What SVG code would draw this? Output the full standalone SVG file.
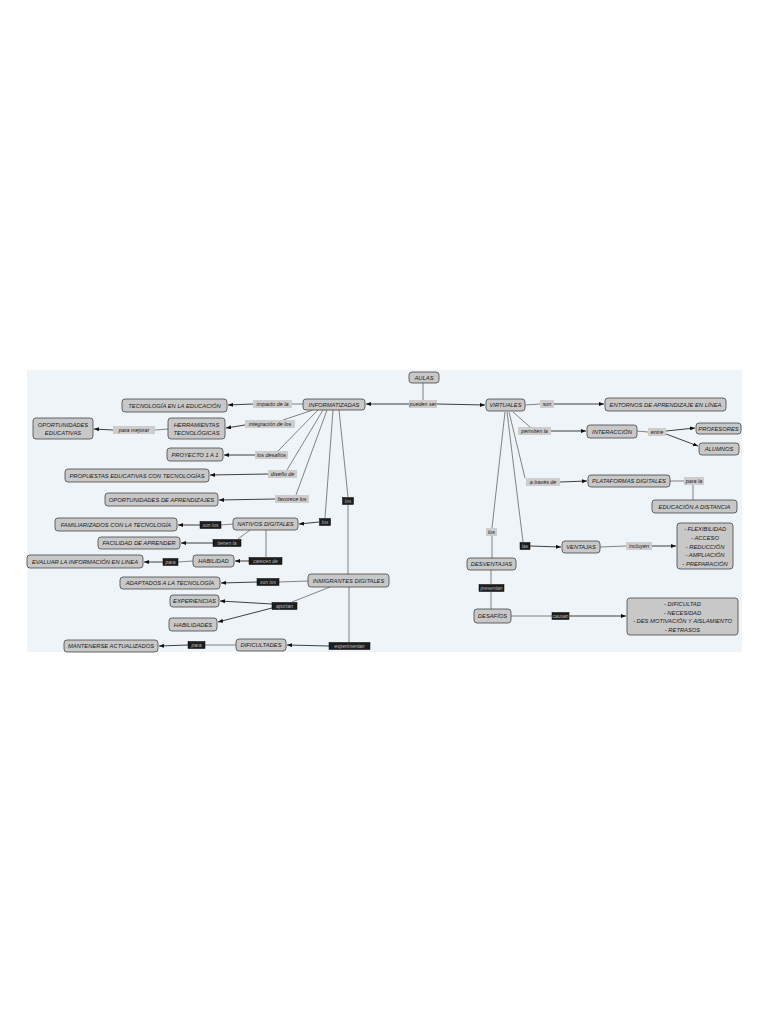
<svg xmlns="http://www.w3.org/2000/svg" width="768" height="1024" viewBox="0 0 768 1024">
<defs>
<marker id="ah" markerWidth="5" markerHeight="4" refX="5" refY="2" orient="auto" markerUnits="userSpaceOnUse"><path d="M0,0 L5,2 L0,4 Z" fill="#111"/></marker>
<style>
.n rect{fill:#c8c8c8;stroke:#444;stroke-width:0.8}
.n text{font-family:"Liberation Sans",Arial,sans-serif;font-style:italic;font-size:5.8px;fill:#1a1a1a;text-anchor:middle;dominant-baseline:central}
.g text{font-family:"Liberation Sans",Arial,sans-serif;font-style:italic;font-size:5.4px;fill:#1a1a1a;text-anchor:middle;dominant-baseline:central}
.g rect{fill:#cdcdcd}
.b rect{fill:#1e1e1e;stroke:#000;stroke-width:0.5}
.b text{font-family:"Liberation Sans",Arial,sans-serif;font-style:italic;font-size:5px;fill:#bbb;text-anchor:middle;dominant-baseline:central}
#connectors line{stroke:#666;stroke-width:0.8}
#connectors line.a{stroke:#111;marker-end:url(#ah)}
</style>
</defs>
<rect width="768" height="1024" fill="#fff"/>
<rect x="27" y="370" width="715" height="282" fill="#eef4f7"/>
<g id="connectors">
<line x1="423" y1="383" x2="423" y2="400"/>
<line class="a" x1="409" y1="404" x2="366" y2="404"/>
<line class="a" x1="437" y1="404" x2="485" y2="405"/>
<line x1="525" y1="405" x2="540" y2="404"/>
<line class="a" x1="554" y1="404" x2="604" y2="404"/>
<line x1="513" y1="412" x2="530" y2="427"/>
<line class="a" x1="551" y1="431" x2="586" y2="431"/>
<line x1="637" y1="431" x2="648" y2="432"/>
<line class="a" x1="666" y1="431" x2="695" y2="428"/>
<line class="a" x1="666" y1="434" x2="698" y2="446"/>
<line x1="509" y1="412" x2="525" y2="478"/>
<line class="a" x1="560" y1="482" x2="587" y2="481"/>
<line x1="670" y1="481" x2="684" y2="481"/>
<line x1="693" y1="485" x2="693" y2="500"/>
<line x1="507" y1="412" x2="523" y2="542"/>
<line class="a" x1="530" y1="546" x2="561" y2="547"/>
<line x1="600" y1="547" x2="626" y2="546"/>
<line class="a" x1="652" y1="546" x2="676" y2="546"/>
<line x1="505" y1="412" x2="492" y2="528"/>
<line x1="492" y1="536" x2="492" y2="558"/>
<line x1="491" y1="570" x2="491" y2="584"/>
<line x1="491" y1="592" x2="491" y2="609"/>
<line x1="511" y1="616" x2="552" y2="616"/>
<line class="a" x1="569" y1="616" x2="626" y2="616"/>
<line x1="303" y1="404" x2="292" y2="404"/>
<line class="a" x1="253" y1="404" x2="228" y2="405"/>
<line x1="313" y1="410" x2="283" y2="420"/>
<line class="a" x1="245" y1="425" x2="226" y2="428"/>
<line x1="168" y1="429" x2="155" y2="430"/>
<line class="a" x1="113" y1="430" x2="94" y2="429"/>
<line x1="318" y1="410" x2="278" y2="451"/>
<line class="a" x1="255" y1="455" x2="224" y2="455"/>
<line x1="323" y1="410" x2="287" y2="470"/>
<line class="a" x1="268" y1="474" x2="210" y2="475"/>
<line x1="327" y1="410" x2="296" y2="495"/>
<line class="a" x1="275" y1="499" x2="219" y2="500"/>
<line x1="333" y1="410" x2="325" y2="518"/>
<line class="a" x1="319" y1="522" x2="299" y2="524"/>
<line x1="339" y1="410" x2="348" y2="497"/>
<line x1="348" y1="505" x2="348" y2="574"/>
<line x1="233" y1="524" x2="221" y2="525"/>
<line class="a" x1="200" y1="525" x2="178" y2="525"/>
<line x1="250" y1="530" x2="238" y2="539"/>
<line class="a" x1="213" y1="543" x2="181" y2="543"/>
<line x1="266" y1="530" x2="266" y2="557"/>
<line class="a" x1="249" y1="561" x2="235" y2="561"/>
<line x1="193" y1="561" x2="178" y2="562"/>
<line class="a" x1="163" y1="562" x2="144" y2="562"/>
<line x1="308" y1="581" x2="279" y2="582"/>
<line class="a" x1="257" y1="582" x2="221" y2="583"/>
<line x1="330" y1="587" x2="292" y2="602"/>
<line class="a" x1="272" y1="604" x2="220" y2="601"/>
<line class="a" x1="272" y1="608" x2="218" y2="622"/>
<line x1="349" y1="587" x2="349" y2="642"/>
<line class="a" x1="329" y1="646" x2="287" y2="645"/>
<line x1="236" y1="645" x2="205" y2="645"/>
<line class="a" x1="188" y1="645" x2="159" y2="646"/>
</g>
<g class="g">
<g id="l-pueden"><rect x="409" y="400" width="28" height="8"/><text x="423" y="404">pueden ser</text></g>
<g id="l-son"><rect x="540" y="400" width="14" height="8"/><text x="547" y="404">son</text></g>
<g id="l-permiten"><rect x="518" y="427" width="33" height="8"/><text x="534.5" y="431">permiten la</text></g>
<g id="l-entre"><rect x="648" y="428" width="18" height="8"/><text x="657" y="432">entre</text></g>
<g id="l-traves"><rect x="526" y="478" width="34" height="8"/><text x="543" y="482">a través de</text></g>
<g id="l-parala"><rect x="684" y="477" width="20" height="8"/><text x="694" y="481">para la</text></g>
<g id="l-incluyen"><rect x="626" y="542" width="26" height="8"/><text x="639" y="546">incluyen</text></g>
<g id="l-los-d"><rect x="486" y="528" width="11" height="8"/><text x="491.5" y="532">los</text></g>
<g id="l-impacto"><rect x="253" y="400" width="39" height="8"/><text x="272.5" y="404">impacto de la</text></g>
<g id="l-integracion"><rect x="245" y="420" width="50" height="8"/><text x="270" y="424">integración de los</text></g>
<g id="l-mejorar"><rect x="113" y="426" width="42" height="8"/><text x="134" y="430">para mejorar</text></g>
<g id="l-desafios"><rect x="255" y="451" width="33" height="8"/><text x="271.5" y="455">los desafíos</text></g>
<g id="l-diseno"><rect x="268" y="470" width="29" height="8"/><text x="282.5" y="474">diseño de</text></g>
<g id="l-favorece"><rect x="275" y="495" width="34" height="8"/><text x="292" y="499">favorece los</text></g>
</g>
<g class="b">
<g id="b-los1"><rect x="319.5" y="518.5" width="11" height="7"/><text x="325" y="522">los</text></g>
<g id="b-los2"><rect x="342.5" y="497.5" width="11" height="7"/><text x="348" y="501">los</text></g>
<g id="b-sonlos1"><rect x="200" y="521.5" width="21" height="7"/><text x="210.5" y="525">son los</text></g>
<g id="b-tienen"><rect x="213" y="539.5" width="28" height="7"/><text x="227" y="543">tienen la</text></g>
<g id="b-carecen"><rect x="249" y="557.5" width="33" height="7"/><text x="265.5" y="561">carecen de</text></g>
<g id="b-para1"><rect x="163" y="558.5" width="15" height="7"/><text x="170.5" y="562">para</text></g>
<g id="b-sonlos2"><rect x="257" y="578.5" width="22" height="7"/><text x="268" y="582">son los</text></g>
<g id="b-aportan"><rect x="272" y="602.5" width="25" height="7"/><text x="284.5" y="606">aportan</text></g>
<g id="b-experimentan"><rect x="329" y="642.5" width="41" height="7"/><text x="349.5" y="646">experimentan</text></g>
<g id="b-para2"><rect x="188" y="641.5" width="17" height="7"/><text x="196.5" y="645">para</text></g>
<g id="b-las"><rect x="520" y="542.5" width="10" height="7"/><text x="525" y="546">las</text></g>
<g id="b-presentan"><rect x="479" y="584.5" width="25" height="7"/><text x="491.5" y="588">presentan</text></g>
<g id="b-causan"><rect x="552" y="612.5" width="17" height="7"/><text x="560.5" y="616">causan</text></g>
</g>
<g class="n">
<g id="aulas"><rect x="409" y="372" width="30" height="11" rx="3"/><text x="424" y="377.5">AULAS</text></g>
<g id="informatizadas"><rect x="303" y="399" width="62" height="11" rx="3"/><text x="334" y="404.5">INFORMATIZADAS</text></g>
<g id="virtuales"><rect x="486" y="399" width="39" height="12" rx="3"/><text x="505.5" y="405">VIRTUALES</text></g>
<g id="entornos"><rect x="605" y="398" width="121" height="13" rx="3"/><text x="665.5" y="404.5">ENTORNOS DE APRENDIZAJE EN LÍNEA</text></g>
<g id="interaccion"><rect x="587" y="425" width="50" height="13" rx="3"/><text x="612" y="431.5">INTERACCIÓN</text></g>
<g id="profesores"><rect x="696" y="423" width="45" height="11" rx="3"/><text x="718.5" y="428.5">PROFESORES</text></g>
<g id="alumnos"><rect x="699" y="443" width="40" height="12" rx="3"/><text x="719" y="449">ALUMNOS</text></g>
<g id="plataformas"><rect x="588" y="475" width="82" height="12" rx="3"/><text x="629" y="481">PLATAFORMAS DIGITALES</text></g>
<g id="educacion"><rect x="652" y="500" width="85" height="13" rx="3"/><text x="694.5" y="506.5">EDUCACIÓN A DISTANCIA</text></g>
<g id="ventajas"><rect x="562" y="541" width="38" height="12" rx="3"/><text x="581" y="547">VENTAJAS</text></g>
<g id="lista-ventajas"><rect x="677" y="523" width="56" height="46" rx="3"/>
<text x="705" y="529">- FLEXIBILIDAD</text><text x="705" y="538">- ACCESO</text><text x="705" y="546.5">- REDUCCIÓN</text><text x="705" y="555">- AMPLIACIÓN</text><text x="705" y="564">- PREPARACIÓN</text></g>
<g id="desventajas"><rect x="467" y="558" width="49" height="12" rx="3"/><text x="491.5" y="564">DESVENTAJAS</text></g>
<g id="desafios"><rect x="474" y="609" width="37" height="14" rx="3"/><text x="492.5" y="616">DESAFÍOS</text></g>
<g id="lista-desafios"><rect x="627" y="598" width="111" height="37" rx="3"/>
<text x="682.5" y="604">- DIFICULTAD</text><text x="682.5" y="612.5">- NECESIDAD</text><text x="682.5" y="621">- DES MOTIVACIÓN Y AISLAMIENTO</text><text x="682.5" y="629.5">- RETRASOS</text></g>
<g id="tecnologia"><rect x="122" y="399" width="105" height="13" rx="3"/><text x="174.5" y="405.5">TECNOLOGÍA EN LA EDUCACIÓN</text></g>
<g id="herramientas"><rect x="168" y="418" width="57" height="21" rx="3"/><text x="196.5" y="424.5">HERRAMIENTAS</text><text x="196.5" y="432.5">TECNOLÓGICAS</text></g>
<g id="oportunidades-educativas"><rect x="33" y="418" width="60" height="21" rx="3"/><text x="63" y="424.5">OPORTUNIDADES</text><text x="63" y="432.5">EDUCATIVAS</text></g>
<g id="proyecto"><rect x="167" y="448" width="56" height="13" rx="3"/><text x="195" y="454.5">PROYECTO 1 A 1</text></g>
<g id="propuestas"><rect x="65" y="469" width="144" height="13" rx="3"/><text x="137" y="475.5">PROPUESTAS EDUCATIVAS CON TECNOLOGÍAS</text></g>
<g id="oportunidades-aprendizajes"><rect x="105" y="493" width="113" height="13" rx="3"/><text x="161.5" y="499.5">OPORTUNIDADES DE APRENDIZAJES</text></g>
<g id="nativos"><rect x="233" y="518" width="65" height="12" rx="3"/><text x="265.5" y="524">NATIVOS DIGITALES</text></g>
<g id="familiarizados"><rect x="55" y="518" width="122" height="13" rx="3"/><text x="116" y="524.5">FAMILIARIZADOS CON LA TECNOLOGÍA</text></g>
<g id="facilidad"><rect x="98" y="537" width="82" height="12" rx="3"/><text x="139" y="543">FACILIDAD DE APRENDER</text></g>
<g id="habilidad"><rect x="193" y="555" width="41" height="12" rx="3"/><text x="213.5" y="561">HABILIDAD</text></g>
<g id="evaluar"><rect x="27" y="555" width="116" height="13" rx="3"/><text x="85" y="561.5">EVALUAR LA INFORMACIÓN EN LINEA</text></g>
<g id="inmigrantes"><rect x="308" y="574" width="81" height="13" rx="3"/><text x="348.5" y="580.5">INMIGRANTES DIGITALES</text></g>
<g id="adaptados"><rect x="120" y="577" width="100" height="12" rx="3"/><text x="170" y="583">ADAPTADOS A LA TECNOLOGÍA</text></g>
<g id="experiencias"><rect x="170" y="595" width="49" height="12" rx="3"/><text x="194.5" y="601">EXPERIENCIAS</text></g>
<g id="habilidades"><rect x="169" y="618" width="48" height="13" rx="3"/><text x="193" y="624.5">HABILIDADES</text></g>
<g id="dificultades"><rect x="236" y="639" width="50" height="12" rx="3"/><text x="261" y="645">DIFICULTADES</text></g>
<g id="mantenerse"><rect x="64" y="640" width="94" height="12" rx="3"/><text x="111" y="646">MANTENERSE ACTUALIZADOS</text></g>
</g>
</svg>
